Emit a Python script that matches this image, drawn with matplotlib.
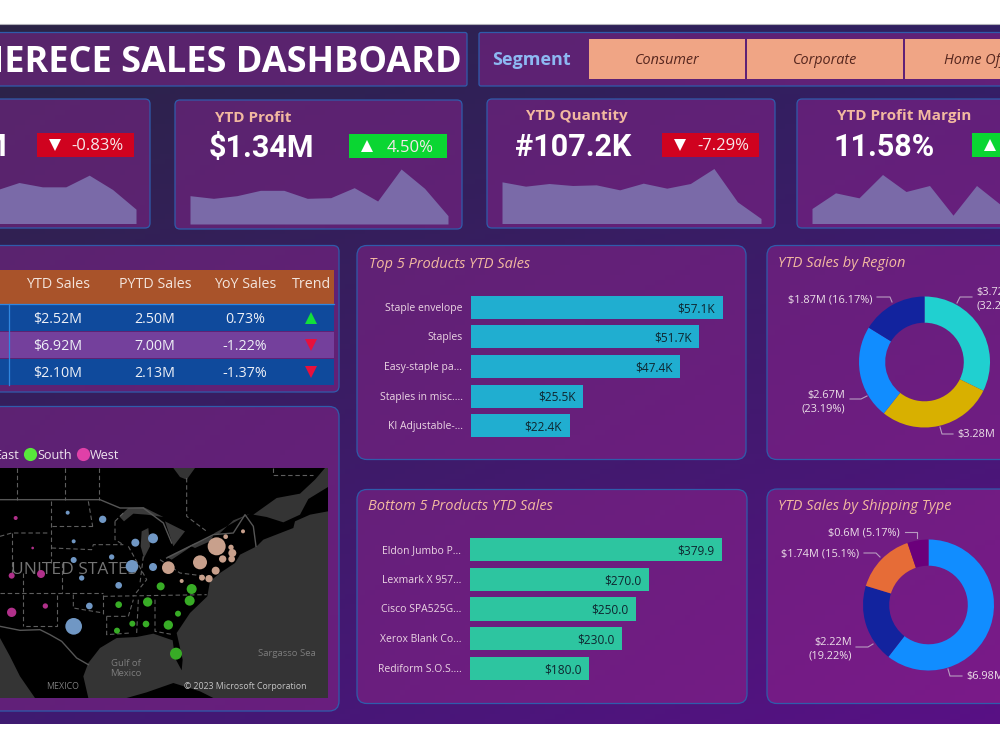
#!/usr/bin/env python3

import numpy as np
import matplotlib
matplotlib.use('Agg')
import matplotlib.pyplot as plt
from matplotlib.colors import to_rgb
from matplotlib.patches import FancyBboxPatch, Polygon, Rectangle

plt.rcParams['font.family'] = ['Open Sans', 'DejaVu Sans']

W, H = 1000, 750
KPI_FONT = ['Roboto', 'DejaVu Sans']

# --- data ---

segments = ['Consumer', 'Corporate', 'Home Office']

kpi_titles = ['YTD Profit', 'YTD Quantity', 'YTD Profit Margin']
kpi_values = ['$1.34M', '#107.2K', '11.58%']
kpi_changes = ['-0.83%', '4.50%', '-7.29%', '']

spark_sales = [100, 123, 110, 110, 145, 102, 43]
spark_profit = [85, 77, 85, 101, 101, 77, 79, 109, 69, 165, 107, 25]
spark_quantity = [125, 112, 120, 114, 116, 101, 121, 106, 120, 165, 65, 15]
spark_margin = [45, 92, 77, 147, 96, 114, 25, 114, 58]

table_cols = ['YTD Sales', 'PYTD Sales', 'YoY Sales', 'Trend']
ytd_sales = ['$2.52M', '$6.92M', '$2.10M']
pytd_sales = ['2.50M', '7.00M', '2.13M']
yoy_sales = ['0.73%', '-1.22%', '-1.37%']
trend_up = [True, False, False]

top_names = ['Staple envelope', 'Staples', 'Easy-staple pa...',
             'Staples in misc....', 'KI Adjustable-...']
top_sales = [57.1, 51.7, 47.4, 25.5, 22.4]
bottom_names = ['Eldon Jumbo P...', 'Lexmark X 957...', 'Cisco SPA525G...',
                'Xerox Blank Co...', 'Rediform S.O.S....']
bottom_sales = [379.9, 270.0, 250.0, 230.0, 180.0]

region_sales = [3.72, 3.28, 2.67, 1.87]
region_colors = ['#20d0d0', '#d8b000', '#118dff', '#12239e']
shipping_sales = [6.98, 2.22, 1.74, 0.6]
shipping_colors = ['#118dff', '#12239e', '#e66c37', '#6b007b']

# map bubbles: x, y on the map image, radius
west_x = [47, 98, 35, 123, 35, 136]
west_y = [355, 445, 528, 523, 638, 619]
west_r = [6, 4, 9, 12, 14, 8]
central_x = [203, 308, 221, 406, 459, 221, 335, 396, 459, 245, 356, 268, 221]
central_y = [339, 359, 425, 429, 416, 481, 472, 500, 502, 535, 557, 619, 680]
central_r = [6, 11, 6, 12, 15, 9, 8, 19, 12, 8, 10, 10, 25]
east_x = [650, 677, 729, 693, 697, 668, 695, 600, 505, 647, 606, 627, 545]
east_y = [440, 411, 395, 443, 460, 478, 478, 488, 504, 513, 534, 537, 544]
east_r = [27, 7, 6, 8, 12, 11, 10, 21, 19, 12, 9, 11, 6]
south_x = [482, 575, 569, 443, 356, 534, 397, 438, 505, 351, 528]
south_y = [560, 568, 603, 607, 615, 642, 672, 673, 676, 693, 762]
south_r = [12, 15, 15, 14, 10, 9, 9, 10, 14, 9, 18]

# map shapes
ocean = [(984, 335), (930, 345), (885, 365), (880, 385), (790, 420), (770, 440),
         (720, 465), (705, 490), (660, 520), (630, 545), (622, 590), (570, 640),
         (530, 700), (548, 780), (545, 812), (525, 775), (518, 722), (460, 702),
         (410, 712), (350, 715), (300, 745), (265, 790), (250, 830), (265, 895),
         (984, 895)]
st_lawrence = [(760, 345), (830, 295), (900, 282), (945, 240), (975, 205), (984, 205),
               (984, 262), (925, 298), (900, 345), (850, 368), (800, 352)]
gulf_cal = [(0, 715), (30, 770), (60, 830), (105, 895), (0, 895)]
cuba = [(380, 895), (440, 878), (520, 850), (600, 875), (640, 895)]
hudson = [(520, 205), (585, 205), (560, 240), (540, 232)]
lakes = [[(358, 350), (385, 325), (430, 322), (490, 352), (440, 345), (400, 342), (372, 365)],
         [(425, 395), (445, 385), (450, 440), (432, 475), (422, 440)],
         [(495, 365), (555, 395), (520, 440), (505, 395)],
         [(500, 472), (590, 428), (560, 450), (515, 480)],
         [(570, 438), (640, 408), (630, 425), (585, 445)],
         [(640, 402), (750, 342), (700, 362), (655, 405)]]
solid_borders = [[(0, 300), (300, 300), (360, 325), (430, 325), (490, 370), (515, 430)],
                 [(500, 475), (590, 430), (640, 405), (700, 400), (735, 345), (760, 380), (768, 440)],
                 [(0, 680), (60, 692), (120, 690), (150, 705), (185, 725), (230, 775), (265, 795)]]
dashed_borders = [[(52, 205), (52, 300)], [(195, 205), (195, 300)], [(298, 205), (298, 300)],
                  [(152, 305), (152, 490)], [(265, 305), (278, 380)], [(155, 380), (278, 380)],
                  [(155, 445), (275, 450), (280, 435), (370, 435)], [(0, 410), (35, 400), (150, 400)],
                  [(35, 400), (35, 520)], [(185, 490), (185, 580)], [(0, 580), (310, 580)],
                  [(68, 520), (68, 680)], [(170, 585), (170, 680), (70, 680)],
                  [(220, 585), (220, 625), (310, 640)], [(310, 585), (310, 650)],
                  [(320, 650), (320, 705), (390, 700)], [(320, 650), (385, 650), (400, 600)],
                  [(415, 600), (410, 700)], [(465, 600), (465, 695), (520, 705)],
                  [(310, 590), (620, 585)], [(345, 365), (370, 340)], [(345, 365), (345, 420), (370, 435)],
                  [(385, 440), (440, 540), (400, 590)], [(430, 470), (420, 550)], [(480, 480), (540, 520), (620, 530)],
                  [(560, 235), (560, 350), (620, 395)], [(820, 205), (820, 225), (940, 225)]]


# --- helpers ---

def corner_gradient(tl, tr, bl, br):
    # four corner colours blended over the whole canvas
    xs = np.linspace(0, 1, 200)[None, :, None]
    ys = np.linspace(0, 1, 150)[:, None, None]
    tl, tr, bl, br = [np.array(to_rgb(c))[None, None, :] for c in (tl, tr, bl, br)]
    return (1 - ys) * ((1 - xs) * tl + xs * tr) + ys * ((1 - xs) * bl + xs * br)


def panel(x0, y0, x1, y1, radius=5):
    box = FancyBboxPatch((x0, y0), x1 - x0, y1 - y0,
                         boxstyle=f'round,pad=0,rounding_size={radius}',
                         fc='none', ec='#2f5cab', lw=0.9, zorder=3)
    ax.add_patch(box)
    im = ax.imshow(panel_grad, extent=(0, W, H, 0), aspect='auto', zorder=2)
    im.set_clip_path(box)


def px_axes(x0, y0, x1, y1):
    a = fig.add_axes([x0 / W, 1 - y1 / H, (x1 - x0) / W, (y1 - y0) / H])
    a.patch.set_alpha(0)
    a.axis('off')
    return a


def sparkline(values, x0, x1, base):
    a = px_axes(x0, base - 175 / 3, x1, base)
    xs = np.arange(len(values))
    a.fill_between(xs, values, color='#7a6aa8', lw=0)
    a.set_xlim(0, len(values) - 1)
    a.set_ylim(0, 175)


def badge(x0, y0, x1, y1, text, up):
    ax.add_patch(Rectangle((x0, y0), x1 - x0, y1 - y0,
                           fc='#0ad632' if up else '#d0021f', zorder=4))
    ax.plot(x0 + 17.5, (y0 + y1) / 2, marker='^' if up else 'v', color='white',
            ms=9, mew=0, zorder=5)
    ax.text(x0 + 61, (y0 + y1) / 2 + 1.5, text, color='#f6e8ea', fontsize=12,
            ha='center', va='center', zorder=5)


def hbars(names, values, color, left, right, top, bottom, full_px, fmt):
    a = px_axes(left, top, right, bottom)
    ys = np.arange(len(values))
    a.barh(ys, values, height=0.78, color=color)
    a.set_xlim(0, values[0] * (right - left) / full_px)
    a.set_ylim(len(values) - 0.5, -0.5)
    for y, v, name in zip(ys, values, names):
        a.annotate(fmt.format(v), (v, y), xytext=(-5.5, -1), textcoords='offset points',
                   color='#0f2630', fontsize=8.6, ha='right', va='center')
        ax.text(left - 8, top + (y + 0.5) * (bottom - top) / len(values) + 1, name,
                color='#ecd6e4', fontsize=7.5, ha='right', va='center', zorder=5)


def donut(values, colors, cx, cy, r):
    a = px_axes(cx - r, cy - r, cx + r, cy + r)
    a.pie(values, colors=colors, startangle=90, counterclock=False, radius=1,
          wedgeprops={'width': 0.4, 'linewidth': 0})
    a.set_xlim(-1, 1)
    a.set_ylim(-1, 1)
    a.set_aspect('auto')


def callout(text, x, y, line, ha='left'):
    ax.text(x, y + 1, text, color='#ecdfe8', fontsize=7.9, ha=ha, va='center',
            linespacing=1.3, zorder=5)
    ax.plot(*zip(*line), color='#b89cc0', lw=0.8, zorder=5)


# --- canvas ---

fig = plt.figure(figsize=(W / 100, H / 100), dpi=100, facecolor='white')
ax = fig.add_axes([0, 0, 1, 1])
ax.axis('off')

bg_grad = corner_gradient('#2a2444', '#302062', '#3f1a72', '#5a1086')
panel_grad = corner_gradient('#57256a', '#5f2178', '#62207a', '#7c1a8a')

im = ax.imshow(bg_grad, extent=(0, W, H, 0), aspect='auto', zorder=1)
im.set_clip_path(Rectangle((0, 23.5), W, 701, transform=ax.transData))
ax.plot([0, W], [23.5, 23.5], color='#b0b0b8', lw=0.8, zorder=1)
ax.set_xlim(0, W)
ax.set_ylim(H, 0)

# --- header ---

panel(-10, 32.5, 467, 86, 2)
ax.text(462, 63, 'COMMERECE SALES DASHBOARD', color='white', fontsize=26,
        fontweight='bold', ha='right', va='center', zorder=5)

panel(479, 32.5, 1010, 86, 2)
ax.text(531, 60, 'Segment', color='#8db8f2', fontsize=13, fontweight='bold',
        ha='center', va='center', zorder=5)
for (x0, x1), name in zip([(589, 745), (747, 903), (905, 1010)], segments):
    ax.add_patch(Rectangle((x0, 39), x1 - x0, 40, fc='#f0a585', zorder=4))
    ax.text(x0 + 78, 61, name, color='#56261e', fontsize=10.4, style='italic',
            ha='center', va='center', zorder=5)

# --- kpi cards ---

panel(-10, 99, 150, 228)
panel(175, 100, 462, 229)
panel(487, 99, 775, 228)
panel(797, 99, 1010, 228)

ax.text(6, 147.5, 'M', color='white', fontsize=22, fontweight='bold', family=KPI_FONT,
        ha='right', va='center', zorder=5)
for x, ty, title in zip([253, 577, 904], [118, 116, 116], kpi_titles):
    ax.text(x, ty, title, color='#f2b9a0', fontsize=11, fontweight='bold',
            ha='center', va='center', zorder=5)
for x, value in zip([261, 573, 884], kpi_values):
    ax.text(x, 147.5, value, color='white', fontsize=22, fontweight='bold',
            family=KPI_FONT, ha='center', va='center', zorder=5)

badge(37, 133, 134, 157, kpi_changes[0], False)
badge(349, 134, 447, 158, kpi_changes[1], True)
badge(662, 133, 759, 157, kpi_changes[2], False)
badge(972, 133, 1010, 157, kpi_changes[3], True)

sparkline(spark_sales, -4.4, 136, 223.5)
sparkline(spark_profit, 190, 448, 224)
sparkline(spark_quantity, 502, 761, 223.5)
sparkline(spark_margin, 812, 1000, 223.5)

# --- table ---

panel(-10, 245.5, 339, 392, 6)
ax.add_patch(Rectangle((-5, 269.5), 339, 34.5, fc='#a9532a', zorder=4))
row_colors = ['#0f4a9c', '#74409c', '#0f4a9c']
col_x = [58, 155, 245, 311]
for x, name in zip(col_x, table_cols):
    ax.text(x, 284.5, name, color='#f3e4dc', fontsize=10.3, ha='center', va='center', zorder=5)
for i, color in enumerate(row_colors):
    y0 = 304.5 + i * 27
    ax.add_patch(Rectangle((-5, y0), 339, 26, fc=color, zorder=4))
    yc = y0 + 13.5
    for x, txt in zip(col_x, (ytd_sales[i], pytd_sales[i], yoy_sales[i])):
        ax.text(x, yc + 1.5, txt, color='#eef0f6', fontsize=10.3, ha='center', va='center', zorder=5)
    ax.plot(311, yc, marker='^' if trend_up[i] else 'v', ms=8.5, mew=0,
            color='#12e03c' if trend_up[i] else '#e8103c', zorder=5)
ax.plot([8.5, 8.5], [304, 385], color='#2f86e0', lw=0.9, zorder=5)
ax.plot([-5, 334], [304, 304], color='#2f86e0', lw=0.9, zorder=5)

# --- map ---

panel(-10, 406.5, 339, 711, 10)
ax.text(19, 455.5, 'East', color='#efe3ee', fontsize=9.1, ha='right', va='center', zorder=5)
ax.plot(30, 454, 'o', color='#58e83c', ms=9.5, mew=0, zorder=5)
ax.text(37, 455.5, 'South', color='#efe3ee', fontsize=9.1, ha='left', va='center', zorder=5)
ax.plot(83, 454, 'o', color='#e040a8', ms=9.5, mew=0, zorder=5)
ax.text(89.5, 455.5, 'West', color='#efe3ee', fontsize=9.1, ha='left', va='center', zorder=5)

mp = px_axes(0, 468, 328, 698)
mp.axis('on')
mp.set_xticks([])
mp.set_yticks([])
for side in mp.spines.values():
    side.set_visible(False)
mp.patch.set_alpha(1)
mp.set_facecolor('black')
mp.set_xlim(0, 984)
mp.set_ylim(895, 205)

for shape in [ocean, st_lawrence, gulf_cal, hudson]:
    mp.add_patch(Polygon(shape, fc='#343434', lw=0))
mp.add_patch(Polygon(cuba, fc='black', lw=0))
for lake in lakes:
    mp.add_patch(Polygon(lake, fc='#3a3a3a', lw=0))
for line in solid_borders:
    mp.plot(*zip(*line), color='#565656', lw=1.0)
for line in dashed_borders:
    mp.plot(*zip(*line), color='#5e5e5e', lw=0.8, ls=(0, (4, 2.5)))

mp.text(222, 510, 'UNITED STATES', color='#747474', fontsize=12.5, ha='center', va='center')
mp.text(377, 806, 'Gulf of\nMexico', color='#7c7c7c', fontsize=6.8, ha='center', va='center',
        linespacing=1.1)
mp.text(862, 763, 'Sargasso Sea', color='#7c7c7c', fontsize=6.8, ha='center', va='center')
mp.text(187, 861, 'MEXICO', color='#7c7c7c', fontsize=6.4, ha='center', va='center')
mp.text(735, 861, '© 2023 Microsoft Corporation', color='#c4c4c4', fontsize=6.3,
        ha='center', va='center')

for xs, ys, rs, color in [(west_x, west_y, west_r, '#b0308a'),
                          (central_x, central_y, central_r, '#7097c4'),
                          (east_x, east_y, east_r, '#c8a08c'),
                          (south_x, south_y, south_r, '#38ac26')]:
    mp.scatter(xs, ys, s=(0.48 * np.array(rs)) ** 2, color=color, lw=0, zorder=4)

# --- product bars ---

panel(357, 245.5, 746, 459.5, 10)
panel(357, 489.5, 747, 703.5, 10)
ax.text(369, 264, 'Top 5 Products YTD Sales', color='#f2b9a0', fontsize=10.5,
        style='italic', ha='left', va='center', zorder=5)
ax.text(368, 507, 'Bottom 5 Products YTD Sales', color='#f2b9a0', fontsize=10.5,
        style='italic', ha='left', va='center', zorder=5)
hbars(top_names, top_sales, '#20aed0', 470.5, 746, 292.7, 440.3, 252.5, '${:.1f}K')
hbars(bottom_names, bottom_sales, '#2dc5a0', 469.5, 746, 534.7, 683.3, 252.5, '${:.1f}')

# --- donuts ---

panel(767, 245.5, 1010, 459.5, 10)
panel(767, 489, 1010, 703.5, 10)
ax.text(778, 263.5, 'YTD Sales by Region', color='#f2b9a0', fontsize=10.5,
        style='italic', ha='left', va='center', zorder=5)
ax.text(778, 506.5, 'YTD Sales by Shipping Type', color='#f2b9a0', fontsize=10.5,
        style='italic', ha='left', va='center', zorder=5)

donut(region_sales, region_colors, 924.5, 362, 65.5)
donut(shipping_sales, shipping_colors, 928.5, 605, 65.5)

callout('$3.72M\n(32.25%)', 976.5, 298, [(957, 303), (960, 297), (972, 297)])
callout('$3.28M', 957, 434, [(940, 427), (942, 434), (953, 434)])
callout('$2.67M\n(23.19%)', 845.5, 401, [(850, 399), (861, 399), (867, 396)], ha='right')
callout('$1.87M (16.17%)', 873, 298.5, [(877, 297), (890, 297), (892, 302)], ha='right')

callout('$6.98M', 966, 675, [(948, 669), (950, 676), (962, 676)])
callout('$2.22M\n(19.22%)', 852, 648, [(856, 647), (868, 647), (873, 644)], ha='right')
callout('$1.74M (15.1%)', 859, 553, [(864, 553), (876, 553), (880, 557)], ha='right')
callout('$0.6M (5.17%)', 900, 532, [(905, 532), (917, 532), (917, 538)], ha='right')

fig.savefig('out.png', dpi=100, facecolor='white')
